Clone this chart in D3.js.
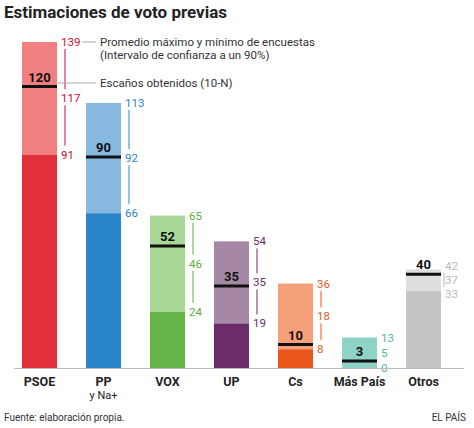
<!DOCTYPE html><html><head><meta charset="utf-8"><script src="https://cdn.jsdelivr.net/npm/d3@7"></script>
<style>body{margin:0;background:#fff}text{font-family:"Roboto","Liberation Sans",sans-serif}</style></head><body><svg id="c" width="474" height="428"></svg>
<script>
const parties=["PSOE","PP\ny Na+","VOX","UP","Cs","Más País","Otros"];
const maxV=[139,113,65,54,36,13,42];
const avgV=[117,92,46,35,18,5,37];
const minV=[91,66,24,19,8,0,33];
const seats=[120,90,52,35,10,3,40];
const dark=["#e1303a","#2a86c8","#64b447","#6a2d6a","#e9571c","#8fd3c6","#c4c4c4"];
const light=["#f07f80","#86b8e0","#a9d795","#a787a6","#f69f7b","#8fd3c6","#dedede"];
const lab=["#c8102e","#2a86c8","#5ab03c","#6a2d6a","#e9571c","#4db6a6","#b8b8b8"];
const svg=d3.select("#c");
const y=d3.scaleLinear().domain([0,139]).range([368,42]);
const bw=35;const step=64;
const xs=i=>22+i*step;
svg.append("text").attr("x",4).attr("y",18).attr("font-size",17).attr("font-weight",700).attr("fill","#222").text("Estimaciones de voto previas");
parties.forEach((p,i)=>{
 const g=svg.append("g"),x0=xs(i);
 g.append("rect").attr("x",x0).attr("width",bw).attr("y",y(maxV[i])).attr("height",y(minV[i])-y(maxV[i])).attr("fill",light[i]);
 g.append("rect").attr("x",x0).attr("width",bw).attr("y",y(minV[i])).attr("height",y(0)-y(minV[i])).attr("fill",dark[i]);
 g.append("line").attr("x1",x0).attr("x2",x0+bw).attr("y1",y(seats[i])).attr("y2",y(seats[i])).attr("stroke","#111").attr("stroke-width",3);
 g.append("text").attr("x",x0+bw/2).attr("y",y(seats[i])-5).attr("text-anchor","middle").attr("font-size",13).attr("font-weight",700).attr("fill","#111").text(seats[i]);
 const lx=x0+39,bx=x0+43,c=lab[i];
 const a=y(maxV[i]), b=y(minV[i]), ym=(a+b)/2;
 let ys=[a,ym,b];
 if(ym-a<14){ys=[ym-14,ym,ym+14];}
 [maxV[i],avgV[i],minV[i]].forEach((v,k)=>{
  g.append("text").attr("x",lx).attr("y",ys[k]+4).attr("font-size",11.5).attr("fill",c).text(v);});
 if(ym-a>18){g.append("line").attr("x1",bx).attr("x2",bx).attr("y1",a+7).attr("y2",ym-9).attr("stroke",c);
  g.append("line").attr("x1",bx).attr("x2",bx).attr("y1",ym+7).attr("y2",b-9).attr("stroke",c);}
 else if(i==6){g.append("line").attr("x1",x0+38).attr("x2",x0+38).attr("y1",ym-7).attr("y2",ym+7).attr("stroke",c);}
 p.split("\n").forEach((t,k)=>g.append("text").attr("x",x0+bw/2).attr("y",386+k*13).attr("text-anchor","middle").attr("font-size",k?11:12.5).attr("font-weight",k?400:700).attr("fill","#222").text(t));
});
svg.append("line").attr("x1",14).attr("x2",464).attr("y1",368.5).attr("y2",368.5).attr("stroke","#bbb");
svg.append("line").attr("x1",82).attr("x2",96).attr("y1",42).attr("y2",42).attr("stroke","#aaa");
svg.append("line").attr("x1",58).attr("x2",96).attr("y1",83).attr("y2",83).attr("stroke","#aaa");
[["Promedio máximo y mínimo de encuestas",46],["(Intervalo de confianza a un 90%)",59],["Escaños obtenidos (10-N)",87]].forEach(([t,yy])=>
 svg.append("text").attr("x",100).attr("y",yy).attr("font-size",11.5).attr("fill","#333").text(t));
svg.append("text").attr("x",4).attr("y",421).attr("font-size",10).attr("fill","#333").text("Fuente: elaboración propia.");
svg.append("text").attr("x",466).attr("y",421).attr("text-anchor","end").attr("font-size",10).attr("fill","#333").text("EL PAÍS");
</script></body></html>
